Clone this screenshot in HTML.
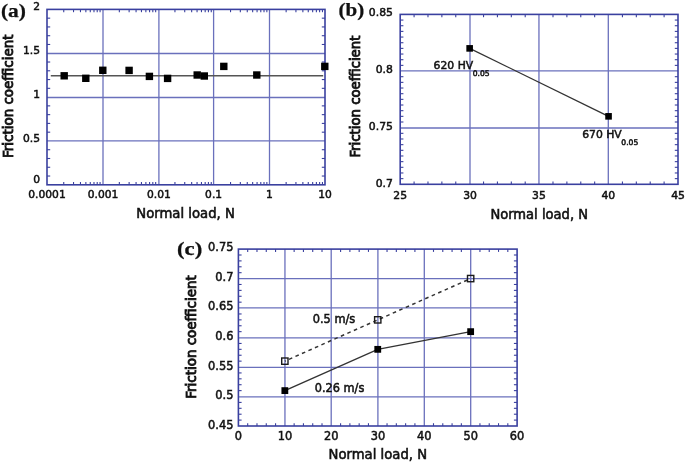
<!DOCTYPE html>
<html><head><meta charset="utf-8"><title>Friction coefficient vs normal load</title>
<style>
html,body{margin:0;padding:0;background:#fff;}
svg{display:block;}
text{font-family:"DejaVu Sans","Liberation Sans",sans-serif;fill:#111;}
text.tk{font-size:10.8px;stroke:#111;stroke-width:0.5px;}
text.ta{font-size:10.7px;}
text.tc{font-size:11.4px;}
tspan.sub{font-size:7.6px;}
text.pl{font-family:"Liberation Serif",serif;font-weight:bold;font-size:19.5px;stroke:#111;stroke-width:0.25px;}
text.yl{font-family:"DejaVu Sans",sans-serif;font-size:13.3px;stroke:#111;stroke-width:0.85px;}
text.xl{font-family:"DejaVu Sans",sans-serif;font-size:14.2px;stroke:#111;stroke-width:0.6px;}
</style></head><body>
<svg width="685" height="463" viewBox="0 0 685 463">
<rect width="685" height="463" fill="#fff"/>
<line x1="103.00" y1="9.40" x2="103.00" y2="184.80" stroke="#6a70bc" stroke-width="1.3" />
<line x1="158.90" y1="9.40" x2="158.90" y2="184.80" stroke="#6a70bc" stroke-width="1.3" />
<line x1="213.60" y1="9.40" x2="213.60" y2="184.80" stroke="#6a70bc" stroke-width="1.3" />
<line x1="269.50" y1="9.40" x2="269.50" y2="184.80" stroke="#6a70bc" stroke-width="1.3" />
<line x1="47.00" y1="53.50" x2="325.00" y2="53.50" stroke="#6a70bc" stroke-width="1.3" />
<line x1="47.00" y1="97.50" x2="325.00" y2="97.50" stroke="#6a70bc" stroke-width="1.3" />
<line x1="47.00" y1="140.90" x2="325.00" y2="140.90" stroke="#6a70bc" stroke-width="1.3" />
<line x1="63.74" y1="9.40" x2="63.74" y2="12.20" stroke="#3a409f" stroke-width="1.1" />
<line x1="63.74" y1="184.80" x2="63.74" y2="182.00" stroke="#3a409f" stroke-width="1.1" />
<line x1="73.53" y1="9.40" x2="73.53" y2="12.20" stroke="#3a409f" stroke-width="1.1" />
<line x1="73.53" y1="184.80" x2="73.53" y2="182.00" stroke="#3a409f" stroke-width="1.1" />
<line x1="80.47" y1="9.40" x2="80.47" y2="12.20" stroke="#3a409f" stroke-width="1.1" />
<line x1="80.47" y1="184.80" x2="80.47" y2="182.00" stroke="#3a409f" stroke-width="1.1" />
<line x1="85.86" y1="9.40" x2="85.86" y2="12.20" stroke="#3a409f" stroke-width="1.1" />
<line x1="85.86" y1="184.80" x2="85.86" y2="182.00" stroke="#3a409f" stroke-width="1.1" />
<line x1="90.27" y1="9.40" x2="90.27" y2="12.20" stroke="#3a409f" stroke-width="1.1" />
<line x1="90.27" y1="184.80" x2="90.27" y2="182.00" stroke="#3a409f" stroke-width="1.1" />
<line x1="93.99" y1="9.40" x2="93.99" y2="12.20" stroke="#3a409f" stroke-width="1.1" />
<line x1="93.99" y1="184.80" x2="93.99" y2="182.00" stroke="#3a409f" stroke-width="1.1" />
<line x1="97.21" y1="9.40" x2="97.21" y2="12.20" stroke="#3a409f" stroke-width="1.1" />
<line x1="97.21" y1="184.80" x2="97.21" y2="182.00" stroke="#3a409f" stroke-width="1.1" />
<line x1="100.06" y1="9.40" x2="100.06" y2="12.20" stroke="#3a409f" stroke-width="1.1" />
<line x1="100.06" y1="184.80" x2="100.06" y2="182.00" stroke="#3a409f" stroke-width="1.1" />
<line x1="119.34" y1="9.40" x2="119.34" y2="12.20" stroke="#3a409f" stroke-width="1.1" />
<line x1="119.34" y1="184.80" x2="119.34" y2="182.00" stroke="#3a409f" stroke-width="1.1" />
<line x1="129.13" y1="9.40" x2="129.13" y2="12.20" stroke="#3a409f" stroke-width="1.1" />
<line x1="129.13" y1="184.80" x2="129.13" y2="182.00" stroke="#3a409f" stroke-width="1.1" />
<line x1="136.07" y1="9.40" x2="136.07" y2="12.20" stroke="#3a409f" stroke-width="1.1" />
<line x1="136.07" y1="184.80" x2="136.07" y2="182.00" stroke="#3a409f" stroke-width="1.1" />
<line x1="141.46" y1="9.40" x2="141.46" y2="12.20" stroke="#3a409f" stroke-width="1.1" />
<line x1="141.46" y1="184.80" x2="141.46" y2="182.00" stroke="#3a409f" stroke-width="1.1" />
<line x1="145.87" y1="9.40" x2="145.87" y2="12.20" stroke="#3a409f" stroke-width="1.1" />
<line x1="145.87" y1="184.80" x2="145.87" y2="182.00" stroke="#3a409f" stroke-width="1.1" />
<line x1="149.59" y1="9.40" x2="149.59" y2="12.20" stroke="#3a409f" stroke-width="1.1" />
<line x1="149.59" y1="184.80" x2="149.59" y2="182.00" stroke="#3a409f" stroke-width="1.1" />
<line x1="152.81" y1="9.40" x2="152.81" y2="12.20" stroke="#3a409f" stroke-width="1.1" />
<line x1="152.81" y1="184.80" x2="152.81" y2="182.00" stroke="#3a409f" stroke-width="1.1" />
<line x1="155.66" y1="9.40" x2="155.66" y2="12.20" stroke="#3a409f" stroke-width="1.1" />
<line x1="155.66" y1="184.80" x2="155.66" y2="182.00" stroke="#3a409f" stroke-width="1.1" />
<line x1="174.94" y1="9.40" x2="174.94" y2="12.20" stroke="#3a409f" stroke-width="1.1" />
<line x1="174.94" y1="184.80" x2="174.94" y2="182.00" stroke="#3a409f" stroke-width="1.1" />
<line x1="184.73" y1="9.40" x2="184.73" y2="12.20" stroke="#3a409f" stroke-width="1.1" />
<line x1="184.73" y1="184.80" x2="184.73" y2="182.00" stroke="#3a409f" stroke-width="1.1" />
<line x1="191.67" y1="9.40" x2="191.67" y2="12.20" stroke="#3a409f" stroke-width="1.1" />
<line x1="191.67" y1="184.80" x2="191.67" y2="182.00" stroke="#3a409f" stroke-width="1.1" />
<line x1="197.06" y1="9.40" x2="197.06" y2="12.20" stroke="#3a409f" stroke-width="1.1" />
<line x1="197.06" y1="184.80" x2="197.06" y2="182.00" stroke="#3a409f" stroke-width="1.1" />
<line x1="201.47" y1="9.40" x2="201.47" y2="12.20" stroke="#3a409f" stroke-width="1.1" />
<line x1="201.47" y1="184.80" x2="201.47" y2="182.00" stroke="#3a409f" stroke-width="1.1" />
<line x1="205.19" y1="9.40" x2="205.19" y2="12.20" stroke="#3a409f" stroke-width="1.1" />
<line x1="205.19" y1="184.80" x2="205.19" y2="182.00" stroke="#3a409f" stroke-width="1.1" />
<line x1="208.41" y1="9.40" x2="208.41" y2="12.20" stroke="#3a409f" stroke-width="1.1" />
<line x1="208.41" y1="184.80" x2="208.41" y2="182.00" stroke="#3a409f" stroke-width="1.1" />
<line x1="211.26" y1="9.40" x2="211.26" y2="12.20" stroke="#3a409f" stroke-width="1.1" />
<line x1="211.26" y1="184.80" x2="211.26" y2="182.00" stroke="#3a409f" stroke-width="1.1" />
<line x1="230.54" y1="9.40" x2="230.54" y2="12.20" stroke="#3a409f" stroke-width="1.1" />
<line x1="230.54" y1="184.80" x2="230.54" y2="182.00" stroke="#3a409f" stroke-width="1.1" />
<line x1="240.33" y1="9.40" x2="240.33" y2="12.20" stroke="#3a409f" stroke-width="1.1" />
<line x1="240.33" y1="184.80" x2="240.33" y2="182.00" stroke="#3a409f" stroke-width="1.1" />
<line x1="247.27" y1="9.40" x2="247.27" y2="12.20" stroke="#3a409f" stroke-width="1.1" />
<line x1="247.27" y1="184.80" x2="247.27" y2="182.00" stroke="#3a409f" stroke-width="1.1" />
<line x1="252.66" y1="9.40" x2="252.66" y2="12.20" stroke="#3a409f" stroke-width="1.1" />
<line x1="252.66" y1="184.80" x2="252.66" y2="182.00" stroke="#3a409f" stroke-width="1.1" />
<line x1="257.07" y1="9.40" x2="257.07" y2="12.20" stroke="#3a409f" stroke-width="1.1" />
<line x1="257.07" y1="184.80" x2="257.07" y2="182.00" stroke="#3a409f" stroke-width="1.1" />
<line x1="260.79" y1="9.40" x2="260.79" y2="12.20" stroke="#3a409f" stroke-width="1.1" />
<line x1="260.79" y1="184.80" x2="260.79" y2="182.00" stroke="#3a409f" stroke-width="1.1" />
<line x1="264.01" y1="9.40" x2="264.01" y2="12.20" stroke="#3a409f" stroke-width="1.1" />
<line x1="264.01" y1="184.80" x2="264.01" y2="182.00" stroke="#3a409f" stroke-width="1.1" />
<line x1="266.86" y1="9.40" x2="266.86" y2="12.20" stroke="#3a409f" stroke-width="1.1" />
<line x1="266.86" y1="184.80" x2="266.86" y2="182.00" stroke="#3a409f" stroke-width="1.1" />
<line x1="286.14" y1="9.40" x2="286.14" y2="12.20" stroke="#3a409f" stroke-width="1.1" />
<line x1="286.14" y1="184.80" x2="286.14" y2="182.00" stroke="#3a409f" stroke-width="1.1" />
<line x1="295.93" y1="9.40" x2="295.93" y2="12.20" stroke="#3a409f" stroke-width="1.1" />
<line x1="295.93" y1="184.80" x2="295.93" y2="182.00" stroke="#3a409f" stroke-width="1.1" />
<line x1="302.87" y1="9.40" x2="302.87" y2="12.20" stroke="#3a409f" stroke-width="1.1" />
<line x1="302.87" y1="184.80" x2="302.87" y2="182.00" stroke="#3a409f" stroke-width="1.1" />
<line x1="308.26" y1="9.40" x2="308.26" y2="12.20" stroke="#3a409f" stroke-width="1.1" />
<line x1="308.26" y1="184.80" x2="308.26" y2="182.00" stroke="#3a409f" stroke-width="1.1" />
<line x1="312.67" y1="9.40" x2="312.67" y2="12.20" stroke="#3a409f" stroke-width="1.1" />
<line x1="312.67" y1="184.80" x2="312.67" y2="182.00" stroke="#3a409f" stroke-width="1.1" />
<line x1="316.39" y1="9.40" x2="316.39" y2="12.20" stroke="#3a409f" stroke-width="1.1" />
<line x1="316.39" y1="184.80" x2="316.39" y2="182.00" stroke="#3a409f" stroke-width="1.1" />
<line x1="319.61" y1="9.40" x2="319.61" y2="12.20" stroke="#3a409f" stroke-width="1.1" />
<line x1="319.61" y1="184.80" x2="319.61" y2="182.00" stroke="#3a409f" stroke-width="1.1" />
<line x1="322.46" y1="9.40" x2="322.46" y2="12.20" stroke="#3a409f" stroke-width="1.1" />
<line x1="322.46" y1="184.80" x2="322.46" y2="182.00" stroke="#3a409f" stroke-width="1.1" />
<line x1="47.00" y1="176.03" x2="50.20" y2="176.03" stroke="#3a409f" stroke-width="1.1" />
<line x1="325.00" y1="176.03" x2="321.80" y2="176.03" stroke="#3a409f" stroke-width="1.1" />
<line x1="47.00" y1="167.26" x2="50.20" y2="167.26" stroke="#3a409f" stroke-width="1.1" />
<line x1="325.00" y1="167.26" x2="321.80" y2="167.26" stroke="#3a409f" stroke-width="1.1" />
<line x1="47.00" y1="158.49" x2="50.20" y2="158.49" stroke="#3a409f" stroke-width="1.1" />
<line x1="325.00" y1="158.49" x2="321.80" y2="158.49" stroke="#3a409f" stroke-width="1.1" />
<line x1="47.00" y1="149.72" x2="50.20" y2="149.72" stroke="#3a409f" stroke-width="1.1" />
<line x1="325.00" y1="149.72" x2="321.80" y2="149.72" stroke="#3a409f" stroke-width="1.1" />
<line x1="47.00" y1="132.18" x2="50.20" y2="132.18" stroke="#3a409f" stroke-width="1.1" />
<line x1="325.00" y1="132.18" x2="321.80" y2="132.18" stroke="#3a409f" stroke-width="1.1" />
<line x1="47.00" y1="123.41" x2="50.20" y2="123.41" stroke="#3a409f" stroke-width="1.1" />
<line x1="325.00" y1="123.41" x2="321.80" y2="123.41" stroke="#3a409f" stroke-width="1.1" />
<line x1="47.00" y1="114.64" x2="50.20" y2="114.64" stroke="#3a409f" stroke-width="1.1" />
<line x1="325.00" y1="114.64" x2="321.80" y2="114.64" stroke="#3a409f" stroke-width="1.1" />
<line x1="47.00" y1="105.87" x2="50.20" y2="105.87" stroke="#3a409f" stroke-width="1.1" />
<line x1="325.00" y1="105.87" x2="321.80" y2="105.87" stroke="#3a409f" stroke-width="1.1" />
<line x1="47.00" y1="88.33" x2="50.20" y2="88.33" stroke="#3a409f" stroke-width="1.1" />
<line x1="325.00" y1="88.33" x2="321.80" y2="88.33" stroke="#3a409f" stroke-width="1.1" />
<line x1="47.00" y1="79.56" x2="50.20" y2="79.56" stroke="#3a409f" stroke-width="1.1" />
<line x1="325.00" y1="79.56" x2="321.80" y2="79.56" stroke="#3a409f" stroke-width="1.1" />
<line x1="47.00" y1="70.79" x2="50.20" y2="70.79" stroke="#3a409f" stroke-width="1.1" />
<line x1="325.00" y1="70.79" x2="321.80" y2="70.79" stroke="#3a409f" stroke-width="1.1" />
<line x1="47.00" y1="62.02" x2="50.20" y2="62.02" stroke="#3a409f" stroke-width="1.1" />
<line x1="325.00" y1="62.02" x2="321.80" y2="62.02" stroke="#3a409f" stroke-width="1.1" />
<line x1="47.00" y1="44.48" x2="50.20" y2="44.48" stroke="#3a409f" stroke-width="1.1" />
<line x1="325.00" y1="44.48" x2="321.80" y2="44.48" stroke="#3a409f" stroke-width="1.1" />
<line x1="47.00" y1="35.71" x2="50.20" y2="35.71" stroke="#3a409f" stroke-width="1.1" />
<line x1="325.00" y1="35.71" x2="321.80" y2="35.71" stroke="#3a409f" stroke-width="1.1" />
<line x1="47.00" y1="26.94" x2="50.20" y2="26.94" stroke="#3a409f" stroke-width="1.1" />
<line x1="325.00" y1="26.94" x2="321.80" y2="26.94" stroke="#3a409f" stroke-width="1.1" />
<line x1="47.00" y1="18.17" x2="50.20" y2="18.17" stroke="#3a409f" stroke-width="1.1" />
<line x1="325.00" y1="18.17" x2="321.80" y2="18.17" stroke="#3a409f" stroke-width="1.1" />
<rect x="47.00" y="9.40" width="278.00" height="175.40" fill="none" stroke="#3a409f" stroke-width="1.6"/>
<text x="47.00" y="198.00" class="tk ta" text-anchor="middle" >0.0001</text>
<text x="103.00" y="198.00" class="tk ta" text-anchor="middle" >0.001</text>
<text x="158.90" y="198.00" class="tk ta" text-anchor="middle" >0.01</text>
<text x="213.60" y="198.00" class="tk ta" text-anchor="middle" >0.1</text>
<text x="269.50" y="198.00" class="tk ta" text-anchor="middle" >1</text>
<text x="325.00" y="198.00" class="tk ta" text-anchor="middle" >10</text>
<text x="40.00" y="10.40" class="tk ta" text-anchor="end" >2</text>
<text x="40.00" y="54.10" class="tk ta" text-anchor="end" >1.5</text>
<text x="40.00" y="98.40" class="tk ta" text-anchor="end" >1</text>
<text x="40.00" y="141.90" class="tk ta" text-anchor="end" >0.5</text>
<text x="40.00" y="183.20" class="tk ta" text-anchor="end" >0</text>
<line x1="50.80" y1="75.70" x2="323.20" y2="75.70" stroke="#555" stroke-width="1.6" />
<rect x="60.50" y="72.10" width="7.4" height="7.4" fill="#000"/>
<rect x="82.10" y="74.60" width="7.4" height="7.4" fill="#000"/>
<rect x="99.10" y="66.60" width="7.4" height="7.4" fill="#000"/>
<rect x="125.40" y="66.70" width="7.4" height="7.4" fill="#000"/>
<rect x="145.70" y="72.70" width="7.4" height="7.4" fill="#000"/>
<rect x="163.90" y="74.70" width="7.4" height="7.4" fill="#000"/>
<rect x="193.50" y="71.30" width="7.4" height="7.4" fill="#000"/>
<rect x="200.60" y="72.30" width="7.4" height="7.4" fill="#000"/>
<rect x="220.10" y="62.70" width="7.4" height="7.4" fill="#000"/>
<rect x="253.10" y="71.30" width="7.4" height="7.4" fill="#000"/>
<rect x="321.10" y="62.70" width="7.4" height="7.4" fill="#000"/>
<text x="185.6" y="218.1" class="xl" text-anchor="middle" textLength="98.6" lengthAdjust="spacingAndGlyphs">Normal load, N</text>
<text transform="translate(13.2,96.2) rotate(-90)" class="yl" text-anchor="middle" textLength="123.5" lengthAdjust="spacingAndGlyphs">Friction coefficient</text>
<text x="0.9" y="17.0" class="pl" textLength="25" lengthAdjust="spacingAndGlyphs">(a)</text>
<line x1="470.00" y1="14.40" x2="470.00" y2="184.30" stroke="#6a70bc" stroke-width="1.3" />
<line x1="538.95" y1="14.40" x2="538.95" y2="184.30" stroke="#6a70bc" stroke-width="1.3" />
<line x1="608.30" y1="14.40" x2="608.30" y2="184.30" stroke="#6a70bc" stroke-width="1.3" />
<line x1="400.20" y1="70.80" x2="678.00" y2="70.80" stroke="#6a70bc" stroke-width="1.3" />
<line x1="400.20" y1="128.00" x2="678.00" y2="128.00" stroke="#6a70bc" stroke-width="1.3" />
<line x1="414.09" y1="14.40" x2="414.09" y2="17.20" stroke="#3a409f" stroke-width="1.1" />
<line x1="414.09" y1="184.30" x2="414.09" y2="181.50" stroke="#3a409f" stroke-width="1.1" />
<line x1="427.98" y1="14.40" x2="427.98" y2="17.20" stroke="#3a409f" stroke-width="1.1" />
<line x1="427.98" y1="184.30" x2="427.98" y2="181.50" stroke="#3a409f" stroke-width="1.1" />
<line x1="441.87" y1="14.40" x2="441.87" y2="17.20" stroke="#3a409f" stroke-width="1.1" />
<line x1="441.87" y1="184.30" x2="441.87" y2="181.50" stroke="#3a409f" stroke-width="1.1" />
<line x1="455.76" y1="14.40" x2="455.76" y2="17.20" stroke="#3a409f" stroke-width="1.1" />
<line x1="455.76" y1="184.30" x2="455.76" y2="181.50" stroke="#3a409f" stroke-width="1.1" />
<line x1="483.54" y1="14.40" x2="483.54" y2="17.20" stroke="#3a409f" stroke-width="1.1" />
<line x1="483.54" y1="184.30" x2="483.54" y2="181.50" stroke="#3a409f" stroke-width="1.1" />
<line x1="497.43" y1="14.40" x2="497.43" y2="17.20" stroke="#3a409f" stroke-width="1.1" />
<line x1="497.43" y1="184.30" x2="497.43" y2="181.50" stroke="#3a409f" stroke-width="1.1" />
<line x1="511.32" y1="14.40" x2="511.32" y2="17.20" stroke="#3a409f" stroke-width="1.1" />
<line x1="511.32" y1="184.30" x2="511.32" y2="181.50" stroke="#3a409f" stroke-width="1.1" />
<line x1="525.21" y1="14.40" x2="525.21" y2="17.20" stroke="#3a409f" stroke-width="1.1" />
<line x1="525.21" y1="184.30" x2="525.21" y2="181.50" stroke="#3a409f" stroke-width="1.1" />
<line x1="552.99" y1="14.40" x2="552.99" y2="17.20" stroke="#3a409f" stroke-width="1.1" />
<line x1="552.99" y1="184.30" x2="552.99" y2="181.50" stroke="#3a409f" stroke-width="1.1" />
<line x1="566.88" y1="14.40" x2="566.88" y2="17.20" stroke="#3a409f" stroke-width="1.1" />
<line x1="566.88" y1="184.30" x2="566.88" y2="181.50" stroke="#3a409f" stroke-width="1.1" />
<line x1="580.77" y1="14.40" x2="580.77" y2="17.20" stroke="#3a409f" stroke-width="1.1" />
<line x1="580.77" y1="184.30" x2="580.77" y2="181.50" stroke="#3a409f" stroke-width="1.1" />
<line x1="594.66" y1="14.40" x2="594.66" y2="17.20" stroke="#3a409f" stroke-width="1.1" />
<line x1="594.66" y1="184.30" x2="594.66" y2="181.50" stroke="#3a409f" stroke-width="1.1" />
<line x1="622.44" y1="14.40" x2="622.44" y2="17.20" stroke="#3a409f" stroke-width="1.1" />
<line x1="622.44" y1="184.30" x2="622.44" y2="181.50" stroke="#3a409f" stroke-width="1.1" />
<line x1="636.33" y1="14.40" x2="636.33" y2="17.20" stroke="#3a409f" stroke-width="1.1" />
<line x1="636.33" y1="184.30" x2="636.33" y2="181.50" stroke="#3a409f" stroke-width="1.1" />
<line x1="650.22" y1="14.40" x2="650.22" y2="17.20" stroke="#3a409f" stroke-width="1.1" />
<line x1="650.22" y1="184.30" x2="650.22" y2="181.50" stroke="#3a409f" stroke-width="1.1" />
<line x1="664.11" y1="14.40" x2="664.11" y2="17.20" stroke="#3a409f" stroke-width="1.1" />
<line x1="664.11" y1="184.30" x2="664.11" y2="181.50" stroke="#3a409f" stroke-width="1.1" />
<line x1="400.20" y1="178.64" x2="403.40" y2="178.64" stroke="#3a409f" stroke-width="1.1" />
<line x1="678.00" y1="178.64" x2="674.80" y2="178.64" stroke="#3a409f" stroke-width="1.1" />
<line x1="400.20" y1="172.97" x2="403.40" y2="172.97" stroke="#3a409f" stroke-width="1.1" />
<line x1="678.00" y1="172.97" x2="674.80" y2="172.97" stroke="#3a409f" stroke-width="1.1" />
<line x1="400.20" y1="167.31" x2="403.40" y2="167.31" stroke="#3a409f" stroke-width="1.1" />
<line x1="678.00" y1="167.31" x2="674.80" y2="167.31" stroke="#3a409f" stroke-width="1.1" />
<line x1="400.20" y1="161.65" x2="403.40" y2="161.65" stroke="#3a409f" stroke-width="1.1" />
<line x1="678.00" y1="161.65" x2="674.80" y2="161.65" stroke="#3a409f" stroke-width="1.1" />
<line x1="400.20" y1="155.98" x2="403.40" y2="155.98" stroke="#3a409f" stroke-width="1.1" />
<line x1="678.00" y1="155.98" x2="674.80" y2="155.98" stroke="#3a409f" stroke-width="1.1" />
<line x1="400.20" y1="150.32" x2="403.40" y2="150.32" stroke="#3a409f" stroke-width="1.1" />
<line x1="678.00" y1="150.32" x2="674.80" y2="150.32" stroke="#3a409f" stroke-width="1.1" />
<line x1="400.20" y1="144.66" x2="403.40" y2="144.66" stroke="#3a409f" stroke-width="1.1" />
<line x1="678.00" y1="144.66" x2="674.80" y2="144.66" stroke="#3a409f" stroke-width="1.1" />
<line x1="400.20" y1="138.99" x2="403.40" y2="138.99" stroke="#3a409f" stroke-width="1.1" />
<line x1="678.00" y1="138.99" x2="674.80" y2="138.99" stroke="#3a409f" stroke-width="1.1" />
<line x1="400.20" y1="133.33" x2="403.40" y2="133.33" stroke="#3a409f" stroke-width="1.1" />
<line x1="678.00" y1="133.33" x2="674.80" y2="133.33" stroke="#3a409f" stroke-width="1.1" />
<line x1="400.20" y1="122.00" x2="403.40" y2="122.00" stroke="#3a409f" stroke-width="1.1" />
<line x1="678.00" y1="122.00" x2="674.80" y2="122.00" stroke="#3a409f" stroke-width="1.1" />
<line x1="400.20" y1="116.34" x2="403.40" y2="116.34" stroke="#3a409f" stroke-width="1.1" />
<line x1="678.00" y1="116.34" x2="674.80" y2="116.34" stroke="#3a409f" stroke-width="1.1" />
<line x1="400.20" y1="110.68" x2="403.40" y2="110.68" stroke="#3a409f" stroke-width="1.1" />
<line x1="678.00" y1="110.68" x2="674.80" y2="110.68" stroke="#3a409f" stroke-width="1.1" />
<line x1="400.20" y1="105.01" x2="403.40" y2="105.01" stroke="#3a409f" stroke-width="1.1" />
<line x1="678.00" y1="105.01" x2="674.80" y2="105.01" stroke="#3a409f" stroke-width="1.1" />
<line x1="400.20" y1="99.35" x2="403.40" y2="99.35" stroke="#3a409f" stroke-width="1.1" />
<line x1="678.00" y1="99.35" x2="674.80" y2="99.35" stroke="#3a409f" stroke-width="1.1" />
<line x1="400.20" y1="93.69" x2="403.40" y2="93.69" stroke="#3a409f" stroke-width="1.1" />
<line x1="678.00" y1="93.69" x2="674.80" y2="93.69" stroke="#3a409f" stroke-width="1.1" />
<line x1="400.20" y1="88.02" x2="403.40" y2="88.02" stroke="#3a409f" stroke-width="1.1" />
<line x1="678.00" y1="88.02" x2="674.80" y2="88.02" stroke="#3a409f" stroke-width="1.1" />
<line x1="400.20" y1="82.36" x2="403.40" y2="82.36" stroke="#3a409f" stroke-width="1.1" />
<line x1="678.00" y1="82.36" x2="674.80" y2="82.36" stroke="#3a409f" stroke-width="1.1" />
<line x1="400.20" y1="76.70" x2="403.40" y2="76.70" stroke="#3a409f" stroke-width="1.1" />
<line x1="678.00" y1="76.70" x2="674.80" y2="76.70" stroke="#3a409f" stroke-width="1.1" />
<line x1="400.20" y1="65.37" x2="403.40" y2="65.37" stroke="#3a409f" stroke-width="1.1" />
<line x1="678.00" y1="65.37" x2="674.80" y2="65.37" stroke="#3a409f" stroke-width="1.1" />
<line x1="400.20" y1="59.71" x2="403.40" y2="59.71" stroke="#3a409f" stroke-width="1.1" />
<line x1="678.00" y1="59.71" x2="674.80" y2="59.71" stroke="#3a409f" stroke-width="1.1" />
<line x1="400.20" y1="54.04" x2="403.40" y2="54.04" stroke="#3a409f" stroke-width="1.1" />
<line x1="678.00" y1="54.04" x2="674.80" y2="54.04" stroke="#3a409f" stroke-width="1.1" />
<line x1="400.20" y1="48.38" x2="403.40" y2="48.38" stroke="#3a409f" stroke-width="1.1" />
<line x1="678.00" y1="48.38" x2="674.80" y2="48.38" stroke="#3a409f" stroke-width="1.1" />
<line x1="400.20" y1="42.72" x2="403.40" y2="42.72" stroke="#3a409f" stroke-width="1.1" />
<line x1="678.00" y1="42.72" x2="674.80" y2="42.72" stroke="#3a409f" stroke-width="1.1" />
<line x1="400.20" y1="37.05" x2="403.40" y2="37.05" stroke="#3a409f" stroke-width="1.1" />
<line x1="678.00" y1="37.05" x2="674.80" y2="37.05" stroke="#3a409f" stroke-width="1.1" />
<line x1="400.20" y1="31.39" x2="403.40" y2="31.39" stroke="#3a409f" stroke-width="1.1" />
<line x1="678.00" y1="31.39" x2="674.80" y2="31.39" stroke="#3a409f" stroke-width="1.1" />
<line x1="400.20" y1="25.73" x2="403.40" y2="25.73" stroke="#3a409f" stroke-width="1.1" />
<line x1="678.00" y1="25.73" x2="674.80" y2="25.73" stroke="#3a409f" stroke-width="1.1" />
<line x1="400.20" y1="20.06" x2="403.40" y2="20.06" stroke="#3a409f" stroke-width="1.1" />
<line x1="678.00" y1="20.06" x2="674.80" y2="20.06" stroke="#3a409f" stroke-width="1.1" />
<rect x="400.20" y="14.40" width="277.80" height="169.90" fill="none" stroke="#3a409f" stroke-width="1.6"/>
<text x="400.20" y="199.30" class="tk tb" text-anchor="middle" >25</text>
<text x="470.00" y="199.30" class="tk tb" text-anchor="middle" >30</text>
<text x="538.95" y="199.30" class="tk tb" text-anchor="middle" >35</text>
<text x="608.30" y="199.30" class="tk tb" text-anchor="middle" >40</text>
<text x="678.00" y="199.30" class="tk tb" text-anchor="middle" >45</text>
<text x="392.90" y="16.40" class="tk tb" text-anchor="end" >0.85</text>
<text x="392.90" y="72.90" class="tk tb" text-anchor="end" >0.8</text>
<text x="392.90" y="130.20" class="tk tb" text-anchor="end" >0.75</text>
<text x="392.90" y="186.90" class="tk tb" text-anchor="end" >0.7</text>
<line x1="469.65" y1="48.38" x2="608.55" y2="116.34" stroke="#333" stroke-width="1.3" />
<rect x="466.35" y="45.08" width="6.6" height="6.6" fill="#000"/>
<rect x="605.25" y="113.04" width="6.6" height="6.6" fill="#000"/>
<text x="539.2" y="219.1" class="xl" text-anchor="middle" textLength="97.6" lengthAdjust="spacingAndGlyphs">Normal load, N</text>
<text transform="translate(360.2,96.6) rotate(-90)" class="yl" text-anchor="middle" textLength="122" lengthAdjust="spacingAndGlyphs">Friction coefficient</text>
<text x="338.6" y="16.4" class="pl" textLength="25.7" lengthAdjust="spacingAndGlyphs">(b)</text>
<text x="433.6" y="68.6" class="tk">620 HV<tspan class="sub" dx="-0.4" dy="7">0.05</tspan></text>
<text x="582.2" y="138.2" class="tk">670 HV<tspan class="sub" dx="-0.4" dy="7">0.05</tspan></text>
<line x1="284.95" y1="249.10" x2="284.95" y2="426.00" stroke="#6a70bc" stroke-width="1.3" />
<line x1="331.20" y1="249.10" x2="331.20" y2="426.00" stroke="#6a70bc" stroke-width="1.3" />
<line x1="377.90" y1="249.10" x2="377.90" y2="426.00" stroke="#6a70bc" stroke-width="1.3" />
<line x1="424.30" y1="249.10" x2="424.30" y2="426.00" stroke="#6a70bc" stroke-width="1.3" />
<line x1="470.70" y1="249.10" x2="470.70" y2="426.00" stroke="#6a70bc" stroke-width="1.3" />
<line x1="238.40" y1="278.60" x2="517.10" y2="278.60" stroke="#6a70bc" stroke-width="1.3" />
<line x1="238.40" y1="307.80" x2="517.10" y2="307.80" stroke="#6a70bc" stroke-width="1.3" />
<line x1="238.40" y1="337.80" x2="517.10" y2="337.80" stroke="#6a70bc" stroke-width="1.3" />
<line x1="238.40" y1="367.40" x2="517.10" y2="367.40" stroke="#6a70bc" stroke-width="1.3" />
<line x1="238.40" y1="396.80" x2="517.10" y2="396.80" stroke="#6a70bc" stroke-width="1.3" />
<line x1="247.69" y1="249.10" x2="247.69" y2="251.90" stroke="#3a409f" stroke-width="1.1" />
<line x1="247.69" y1="426.00" x2="247.69" y2="423.20" stroke="#3a409f" stroke-width="1.1" />
<line x1="256.98" y1="249.10" x2="256.98" y2="251.90" stroke="#3a409f" stroke-width="1.1" />
<line x1="256.98" y1="426.00" x2="256.98" y2="423.20" stroke="#3a409f" stroke-width="1.1" />
<line x1="266.27" y1="249.10" x2="266.27" y2="251.90" stroke="#3a409f" stroke-width="1.1" />
<line x1="266.27" y1="426.00" x2="266.27" y2="423.20" stroke="#3a409f" stroke-width="1.1" />
<line x1="275.56" y1="249.10" x2="275.56" y2="251.90" stroke="#3a409f" stroke-width="1.1" />
<line x1="275.56" y1="426.00" x2="275.56" y2="423.20" stroke="#3a409f" stroke-width="1.1" />
<line x1="294.14" y1="249.10" x2="294.14" y2="251.90" stroke="#3a409f" stroke-width="1.1" />
<line x1="294.14" y1="426.00" x2="294.14" y2="423.20" stroke="#3a409f" stroke-width="1.1" />
<line x1="303.43" y1="249.10" x2="303.43" y2="251.90" stroke="#3a409f" stroke-width="1.1" />
<line x1="303.43" y1="426.00" x2="303.43" y2="423.20" stroke="#3a409f" stroke-width="1.1" />
<line x1="312.72" y1="249.10" x2="312.72" y2="251.90" stroke="#3a409f" stroke-width="1.1" />
<line x1="312.72" y1="426.00" x2="312.72" y2="423.20" stroke="#3a409f" stroke-width="1.1" />
<line x1="322.01" y1="249.10" x2="322.01" y2="251.90" stroke="#3a409f" stroke-width="1.1" />
<line x1="322.01" y1="426.00" x2="322.01" y2="423.20" stroke="#3a409f" stroke-width="1.1" />
<line x1="340.59" y1="249.10" x2="340.59" y2="251.90" stroke="#3a409f" stroke-width="1.1" />
<line x1="340.59" y1="426.00" x2="340.59" y2="423.20" stroke="#3a409f" stroke-width="1.1" />
<line x1="349.88" y1="249.10" x2="349.88" y2="251.90" stroke="#3a409f" stroke-width="1.1" />
<line x1="349.88" y1="426.00" x2="349.88" y2="423.20" stroke="#3a409f" stroke-width="1.1" />
<line x1="359.17" y1="249.10" x2="359.17" y2="251.90" stroke="#3a409f" stroke-width="1.1" />
<line x1="359.17" y1="426.00" x2="359.17" y2="423.20" stroke="#3a409f" stroke-width="1.1" />
<line x1="368.46" y1="249.10" x2="368.46" y2="251.90" stroke="#3a409f" stroke-width="1.1" />
<line x1="368.46" y1="426.00" x2="368.46" y2="423.20" stroke="#3a409f" stroke-width="1.1" />
<line x1="387.04" y1="249.10" x2="387.04" y2="251.90" stroke="#3a409f" stroke-width="1.1" />
<line x1="387.04" y1="426.00" x2="387.04" y2="423.20" stroke="#3a409f" stroke-width="1.1" />
<line x1="396.33" y1="249.10" x2="396.33" y2="251.90" stroke="#3a409f" stroke-width="1.1" />
<line x1="396.33" y1="426.00" x2="396.33" y2="423.20" stroke="#3a409f" stroke-width="1.1" />
<line x1="405.62" y1="249.10" x2="405.62" y2="251.90" stroke="#3a409f" stroke-width="1.1" />
<line x1="405.62" y1="426.00" x2="405.62" y2="423.20" stroke="#3a409f" stroke-width="1.1" />
<line x1="414.91" y1="249.10" x2="414.91" y2="251.90" stroke="#3a409f" stroke-width="1.1" />
<line x1="414.91" y1="426.00" x2="414.91" y2="423.20" stroke="#3a409f" stroke-width="1.1" />
<line x1="433.49" y1="249.10" x2="433.49" y2="251.90" stroke="#3a409f" stroke-width="1.1" />
<line x1="433.49" y1="426.00" x2="433.49" y2="423.20" stroke="#3a409f" stroke-width="1.1" />
<line x1="442.78" y1="249.10" x2="442.78" y2="251.90" stroke="#3a409f" stroke-width="1.1" />
<line x1="442.78" y1="426.00" x2="442.78" y2="423.20" stroke="#3a409f" stroke-width="1.1" />
<line x1="452.07" y1="249.10" x2="452.07" y2="251.90" stroke="#3a409f" stroke-width="1.1" />
<line x1="452.07" y1="426.00" x2="452.07" y2="423.20" stroke="#3a409f" stroke-width="1.1" />
<line x1="461.36" y1="249.10" x2="461.36" y2="251.90" stroke="#3a409f" stroke-width="1.1" />
<line x1="461.36" y1="426.00" x2="461.36" y2="423.20" stroke="#3a409f" stroke-width="1.1" />
<line x1="479.94" y1="249.10" x2="479.94" y2="251.90" stroke="#3a409f" stroke-width="1.1" />
<line x1="479.94" y1="426.00" x2="479.94" y2="423.20" stroke="#3a409f" stroke-width="1.1" />
<line x1="489.23" y1="249.10" x2="489.23" y2="251.90" stroke="#3a409f" stroke-width="1.1" />
<line x1="489.23" y1="426.00" x2="489.23" y2="423.20" stroke="#3a409f" stroke-width="1.1" />
<line x1="498.52" y1="249.10" x2="498.52" y2="251.90" stroke="#3a409f" stroke-width="1.1" />
<line x1="498.52" y1="426.00" x2="498.52" y2="423.20" stroke="#3a409f" stroke-width="1.1" />
<line x1="507.81" y1="249.10" x2="507.81" y2="251.90" stroke="#3a409f" stroke-width="1.1" />
<line x1="507.81" y1="426.00" x2="507.81" y2="423.20" stroke="#3a409f" stroke-width="1.1" />
<line x1="238.40" y1="420.10" x2="241.60" y2="420.10" stroke="#3a409f" stroke-width="1.1" />
<line x1="517.10" y1="420.10" x2="513.90" y2="420.10" stroke="#3a409f" stroke-width="1.1" />
<line x1="238.40" y1="414.21" x2="241.60" y2="414.21" stroke="#3a409f" stroke-width="1.1" />
<line x1="517.10" y1="414.21" x2="513.90" y2="414.21" stroke="#3a409f" stroke-width="1.1" />
<line x1="238.40" y1="408.31" x2="241.60" y2="408.31" stroke="#3a409f" stroke-width="1.1" />
<line x1="517.10" y1="408.31" x2="513.90" y2="408.31" stroke="#3a409f" stroke-width="1.1" />
<line x1="238.40" y1="402.41" x2="241.60" y2="402.41" stroke="#3a409f" stroke-width="1.1" />
<line x1="517.10" y1="402.41" x2="513.90" y2="402.41" stroke="#3a409f" stroke-width="1.1" />
<line x1="238.40" y1="390.62" x2="241.60" y2="390.62" stroke="#3a409f" stroke-width="1.1" />
<line x1="517.10" y1="390.62" x2="513.90" y2="390.62" stroke="#3a409f" stroke-width="1.1" />
<line x1="238.40" y1="384.72" x2="241.60" y2="384.72" stroke="#3a409f" stroke-width="1.1" />
<line x1="517.10" y1="384.72" x2="513.90" y2="384.72" stroke="#3a409f" stroke-width="1.1" />
<line x1="238.40" y1="378.83" x2="241.60" y2="378.83" stroke="#3a409f" stroke-width="1.1" />
<line x1="517.10" y1="378.83" x2="513.90" y2="378.83" stroke="#3a409f" stroke-width="1.1" />
<line x1="238.40" y1="372.93" x2="241.60" y2="372.93" stroke="#3a409f" stroke-width="1.1" />
<line x1="517.10" y1="372.93" x2="513.90" y2="372.93" stroke="#3a409f" stroke-width="1.1" />
<line x1="238.40" y1="361.14" x2="241.60" y2="361.14" stroke="#3a409f" stroke-width="1.1" />
<line x1="517.10" y1="361.14" x2="513.90" y2="361.14" stroke="#3a409f" stroke-width="1.1" />
<line x1="238.40" y1="355.24" x2="241.60" y2="355.24" stroke="#3a409f" stroke-width="1.1" />
<line x1="517.10" y1="355.24" x2="513.90" y2="355.24" stroke="#3a409f" stroke-width="1.1" />
<line x1="238.40" y1="349.34" x2="241.60" y2="349.34" stroke="#3a409f" stroke-width="1.1" />
<line x1="517.10" y1="349.34" x2="513.90" y2="349.34" stroke="#3a409f" stroke-width="1.1" />
<line x1="238.40" y1="343.45" x2="241.60" y2="343.45" stroke="#3a409f" stroke-width="1.1" />
<line x1="517.10" y1="343.45" x2="513.90" y2="343.45" stroke="#3a409f" stroke-width="1.1" />
<line x1="238.40" y1="331.65" x2="241.60" y2="331.65" stroke="#3a409f" stroke-width="1.1" />
<line x1="517.10" y1="331.65" x2="513.90" y2="331.65" stroke="#3a409f" stroke-width="1.1" />
<line x1="238.40" y1="325.76" x2="241.60" y2="325.76" stroke="#3a409f" stroke-width="1.1" />
<line x1="517.10" y1="325.76" x2="513.90" y2="325.76" stroke="#3a409f" stroke-width="1.1" />
<line x1="238.40" y1="319.86" x2="241.60" y2="319.86" stroke="#3a409f" stroke-width="1.1" />
<line x1="517.10" y1="319.86" x2="513.90" y2="319.86" stroke="#3a409f" stroke-width="1.1" />
<line x1="238.40" y1="313.96" x2="241.60" y2="313.96" stroke="#3a409f" stroke-width="1.1" />
<line x1="517.10" y1="313.96" x2="513.90" y2="313.96" stroke="#3a409f" stroke-width="1.1" />
<line x1="238.40" y1="302.17" x2="241.60" y2="302.17" stroke="#3a409f" stroke-width="1.1" />
<line x1="517.10" y1="302.17" x2="513.90" y2="302.17" stroke="#3a409f" stroke-width="1.1" />
<line x1="238.40" y1="296.27" x2="241.60" y2="296.27" stroke="#3a409f" stroke-width="1.1" />
<line x1="517.10" y1="296.27" x2="513.90" y2="296.27" stroke="#3a409f" stroke-width="1.1" />
<line x1="238.40" y1="290.38" x2="241.60" y2="290.38" stroke="#3a409f" stroke-width="1.1" />
<line x1="517.10" y1="290.38" x2="513.90" y2="290.38" stroke="#3a409f" stroke-width="1.1" />
<line x1="238.40" y1="284.48" x2="241.60" y2="284.48" stroke="#3a409f" stroke-width="1.1" />
<line x1="517.10" y1="284.48" x2="513.90" y2="284.48" stroke="#3a409f" stroke-width="1.1" />
<line x1="238.40" y1="272.69" x2="241.60" y2="272.69" stroke="#3a409f" stroke-width="1.1" />
<line x1="517.10" y1="272.69" x2="513.90" y2="272.69" stroke="#3a409f" stroke-width="1.1" />
<line x1="238.40" y1="266.79" x2="241.60" y2="266.79" stroke="#3a409f" stroke-width="1.1" />
<line x1="517.10" y1="266.79" x2="513.90" y2="266.79" stroke="#3a409f" stroke-width="1.1" />
<line x1="238.40" y1="260.89" x2="241.60" y2="260.89" stroke="#3a409f" stroke-width="1.1" />
<line x1="517.10" y1="260.89" x2="513.90" y2="260.89" stroke="#3a409f" stroke-width="1.1" />
<line x1="238.40" y1="255.00" x2="241.60" y2="255.00" stroke="#3a409f" stroke-width="1.1" />
<line x1="517.10" y1="255.00" x2="513.90" y2="255.00" stroke="#3a409f" stroke-width="1.1" />
<rect x="238.40" y="249.10" width="278.70" height="176.90" fill="none" stroke="#3a409f" stroke-width="1.6"/>
<text x="238.40" y="439.80" class="tk tc" text-anchor="middle" >0</text>
<text x="284.95" y="439.80" class="tk tc" text-anchor="middle" >10</text>
<text x="331.20" y="439.80" class="tk tc" text-anchor="middle" >20</text>
<text x="377.90" y="439.80" class="tk tc" text-anchor="middle" >30</text>
<text x="424.30" y="439.80" class="tk tc" text-anchor="middle" >40</text>
<text x="470.70" y="439.80" class="tk tc" text-anchor="middle" >50</text>
<text x="517.10" y="439.80" class="tk tc" text-anchor="middle" >60</text>
<text x="233.40" y="250.60" class="tk tc" text-anchor="end" >0.75</text>
<text x="233.40" y="280.50" class="tk tc" text-anchor="end" >0.7</text>
<text x="233.40" y="309.70" class="tk tc" text-anchor="end" >0.65</text>
<text x="233.40" y="339.70" class="tk tc" text-anchor="end" >0.6</text>
<text x="233.40" y="369.50" class="tk tc" text-anchor="end" >0.55</text>
<text x="233.40" y="399.30" class="tk tc" text-anchor="end" >0.5</text>
<text x="233.40" y="428.60" class="tk tc" text-anchor="end" >0.45</text>
<polyline fill="none" stroke="#333" stroke-width="1.5" stroke-dasharray="3.6,3.5" stroke-dashoffset="2.6" points="284.85,361.14 377.75,319.86 470.65,278.58"/>
<polyline fill="none" stroke="#333" stroke-width="1.4" points="284.85,390.62 377.75,349.34 470.65,331.65"/>
<rect x="281.70" y="357.99" width="6.3" height="6.3" fill="none" stroke="#1a1a1a" stroke-width="1.4"/>
<rect x="374.60" y="316.71" width="6.3" height="6.3" fill="none" stroke="#1a1a1a" stroke-width="1.4"/>
<rect x="467.50" y="275.43" width="6.3" height="6.3" fill="none" stroke="#1a1a1a" stroke-width="1.4"/>
<rect x="281.45" y="387.22" width="6.8" height="6.8" fill="#000"/>
<rect x="374.35" y="345.94" width="6.8" height="6.8" fill="#000"/>
<rect x="467.25" y="328.25" width="6.8" height="6.8" fill="#000"/>
<text x="377.8" y="458.5" class="xl" text-anchor="middle" textLength="98.6" lengthAdjust="spacingAndGlyphs">Normal load, N</text>
<text transform="translate(195.9,337) rotate(-90)" class="yl" text-anchor="middle" textLength="123.5" lengthAdjust="spacingAndGlyphs">Friction coefficient</text>
<text x="177.0" y="254.8" class="pl" textLength="25.2" lengthAdjust="spacingAndGlyphs">(c)</text>
<text x="312.7" y="322.5" class="tk tc" textLength="42.6" lengthAdjust="spacingAndGlyphs">0.5 m/s</text>
<text x="314.7" y="391.6" class="tk tc" textLength="49.6" lengthAdjust="spacingAndGlyphs">0.26 m/s</text>
</svg>
</body></html>
